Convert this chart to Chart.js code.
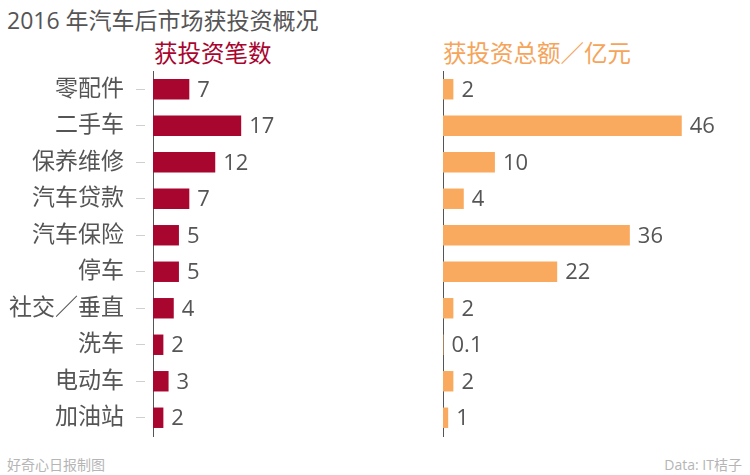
<!DOCTYPE html>
<html><head><meta charset="utf-8">
<script src="https://cdn.jsdelivr.net/npm/chart.js@4"></script>
<style>
html,body{margin:0;padding:0;background:#fff;}
#wrap{position:relative;width:750px;height:475px;overflow:hidden;font-family:"Open Sans","Noto Sans CJK SC",sans-serif;}
.t{position:absolute;white-space:nowrap;}
canvas{position:absolute;}
</style></head><body>
<div id="wrap">
<div class="t" id="title" style="left:7px;top:2px;font-size:23px;color:#555;">2016 年汽车后市场获投资概况</div>
<div class="t" id="lt" style="left:154px;top:35px;font-size:23.5px;color:#a8052f;">获投资笔数</div>
<div class="t" id="rt" style="left:443px;top:35px;font-size:23.5px;color:#f5a459;">获投资总额／亿元</div>
<div class="t" style="left:7px;top:454px;font-size:14px;color:#b5b5b5;">好奇心日报制图</div>
<div class="t" style="right:8px;top:454px;font-size:14px;color:#b5b5b5;">Data: IT桔子</div>
<div style="position:absolute;left:0;top:0;width:430px;height:475px;"><canvas id="c1"></canvas></div>
<div style="position:absolute;left:433px;top:0;width:317px;height:475px;"><canvas id="c2"></canvas></div>
</div>
<script>
const categories = ["零配件","二手车","保养维修","汽车贷款","汽车保险","停车","社交／垂直","洗车","电动车","加油站"];
const dealCounts = [7,17,12,7,5,5,4,2,3,2];
const amounts = [2,46,10,4,36,22,2,0.1,2,1];
const countLabels = ["7","17","12","7","5","5","4","2","3","2"];
const amountLabels = ["2","46","10","4","36","22","2","0.1","2","1"];

const FONT = '"Open Sans","Noto Sans CJK SC",sans-serif';
const valueLabels = {
  id:'valueLabels',
  afterDatasetsDraw(chart, args, opts){
    const ctx = chart.ctx;
    const meta = chart.getDatasetMeta(0);
    ctx.save();
    ctx.font = '22px ' + FONT;
    ctx.fillStyle = '#555';
    ctx.textBaseline = 'middle';
    ctx.textAlign = 'left';
    meta.data.forEach((bar,i)=>{
      ctx.fillText(opts.labels[i], bar.x + 8, bar.y + 1);
    });
    ctx.restore();
  }
};

function makeChart(id, data, labels, color, xmax, left){
  return new Chart(document.getElementById(id), {
    type:'bar',
    data:{labels:categories, datasets:[{data:data, backgroundColor:color, borderWidth:0,
      barPercentage:0.56, categoryPercentage:1}]},
    options:{
      indexAxis:'y', responsive:true, maintainAspectRatio:false, animation:false,
      layout:{padding:{top:71,bottom:39,left:left?0:10,right:0}},
      plugins:{legend:{display:false},tooltip:{enabled:false},valueLabels:{labels:labels}},
      scales:{
        x:{display:false,min:0,max:xmax},
        y:{
          display:true,
          afterFit(s){ s.width = left ? 153 : 0; },
          grid:{display:left, drawOnChartArea:false, offset:false, tickLength:17, tickBorderDash:[9,100], tickColor:'#cfcfcf', tickWidth:1},
          border:{display:true,color:'#555',width:1},
          ticks:{display:left, padding:12, color:'#555', font:{size:23, family:FONT}}
        }
      }
    },
    plugins:[valueLabels]
  });
}
makeChart('c1', dealCounts, countLabels, '#a8052f', 53.4, true);
makeChart('c2', amounts, amountLabels, '#f9aa5e', 59.15, false);
</script>
</body></html>
